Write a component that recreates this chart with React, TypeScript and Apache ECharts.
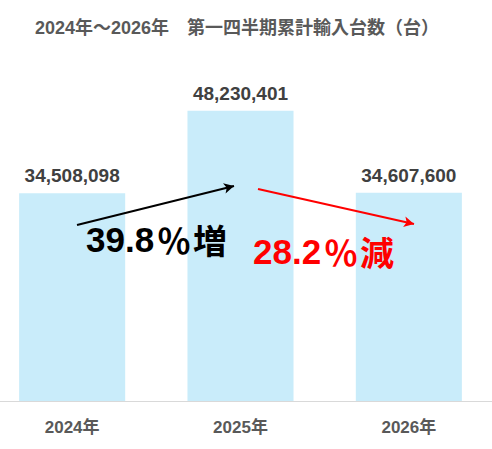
import { useEffect, useRef } from "react";
import * as echarts from "echarts";

// 年ごとの第一四半期累計輸入台数
const years = ["2024年", "2025年", "2026年"];
const imports = [34508098, 48230401, 34607600];
const changeRates = ["39.8", "28.2"];
const changeWords = ["増", "減"];

const FONT = '"Liberation Sans", "Noto Sans CJK JP", sans-serif';
const CJK = '"Noto Sans CJK JP", sans-serif';
// グラフ本体は左に12pxはみ出して描く（元画像の棒の位置に合わせる）
const SHIFT = 12;

export default function App() {
  const chartRef = useRef<HTMLDivElement>(null);

  useEffect(() => {
    document.body.style.margin = "0";
    if (!chartRef.current) return;
    const chart = echarts.init(chartRef.current, undefined, { renderer: "svg" });

    const bigText = (color: string) => ({
      num: { fontFamily: FONT, fontSize: 35, fontWeight: "bold", fill: color, color },
      pct: { fontFamily: CJK, fontSize: 34, fontWeight: "bold", fill: color, color, padding: [0, 2, 0, 3] },
      cjk: { fontFamily: CJK, fontSize: 34, fontWeight: "bold", fill: color, color },
    });

    const option = {
      animation: false,
      title: {
        text: "2024年～2026年　第一四半期累計輸入台数（台）",
        left: 30 + SHIFT,
        top: 14,
        textStyle: { fontFamily: FONT, fontSize: 18, fontWeight: "bold", color: "#595959" },
      },
      grid: { left: 0, right: 0, top: 100, bottom: 48 },
      xAxis: {
        type: "category",
        data: years,
        axisTick: { show: false },
        axisLine: { lineStyle: { color: "#d9d9d9", width: 1 } },
        axisLabel: {
          margin: 18,
          fontFamily: FONT,
          fontSize: 17,
          fontWeight: "bold",
          color: "#595959",
        },
      },
      yAxis: {
        type: "value",
        min: 0,
        max: 50000000,
        show: false,
        splitLine: { show: false },
      },
      series: [
        {
          type: "bar",
          data: imports,
          barWidth: "63%",
          itemStyle: { color: "#c9ecfa" },
          label: {
            show: true,
            position: "top",
            distance: 8,
            fontFamily: FONT,
            fontSize: 19,
            fontWeight: "bold",
            color: "#404040",
            formatter: (p: any) => Number(p.value).toLocaleString("en-US"),
          },
          markLine: {
            silent: true,
            symbol: ["none", "arrow"],
            symbolSize: [8, 10],
            label: { show: false },
            data: [
              [
                { x: 77 + SHIFT, y: 225, lineStyle: { color: "#000000", width: 2, type: "solid" } },
                { x: 234 + SHIFT, y: 186 },
              ],
              [
                { x: 258 + SHIFT, y: 189, lineStyle: { color: "#ff0000", width: 2, type: "solid" } },
                { x: 414 + SHIFT, y: 224 },
              ],
            ],
          },
        },
      ],
      graphic: [
        {
          type: "text",
          z: 100,
          left: 86 + SHIFT,
          top: 222,
          style: {
            text: `{num|${changeRates[0]}}{pct|％}{cjk|${changeWords[0]}}`,
            rich: bigText("#000000"),
          },
        },
        {
          type: "text",
          z: 100,
          left: 253 + SHIFT,
          top: 234,
          style: {
            text: `{num|${changeRates[1]}}{pct|％}{cjk|${changeWords[1]}}`,
            rich: bigText("#ff0000"),
          },
        },
      ],
    };

    chart.setOption(option);
    return () => {
      chart.dispose();
    };
  }, []);

  return (
    <div style={{ width: 492, height: 449, overflow: "hidden", position: "relative" }}>
      <div
        ref={chartRef}
        style={{ position: "absolute", left: -SHIFT, top: 0, width: 492 + SHIFT + 1, height: 449 }}
      />
    </div>
  );
}
